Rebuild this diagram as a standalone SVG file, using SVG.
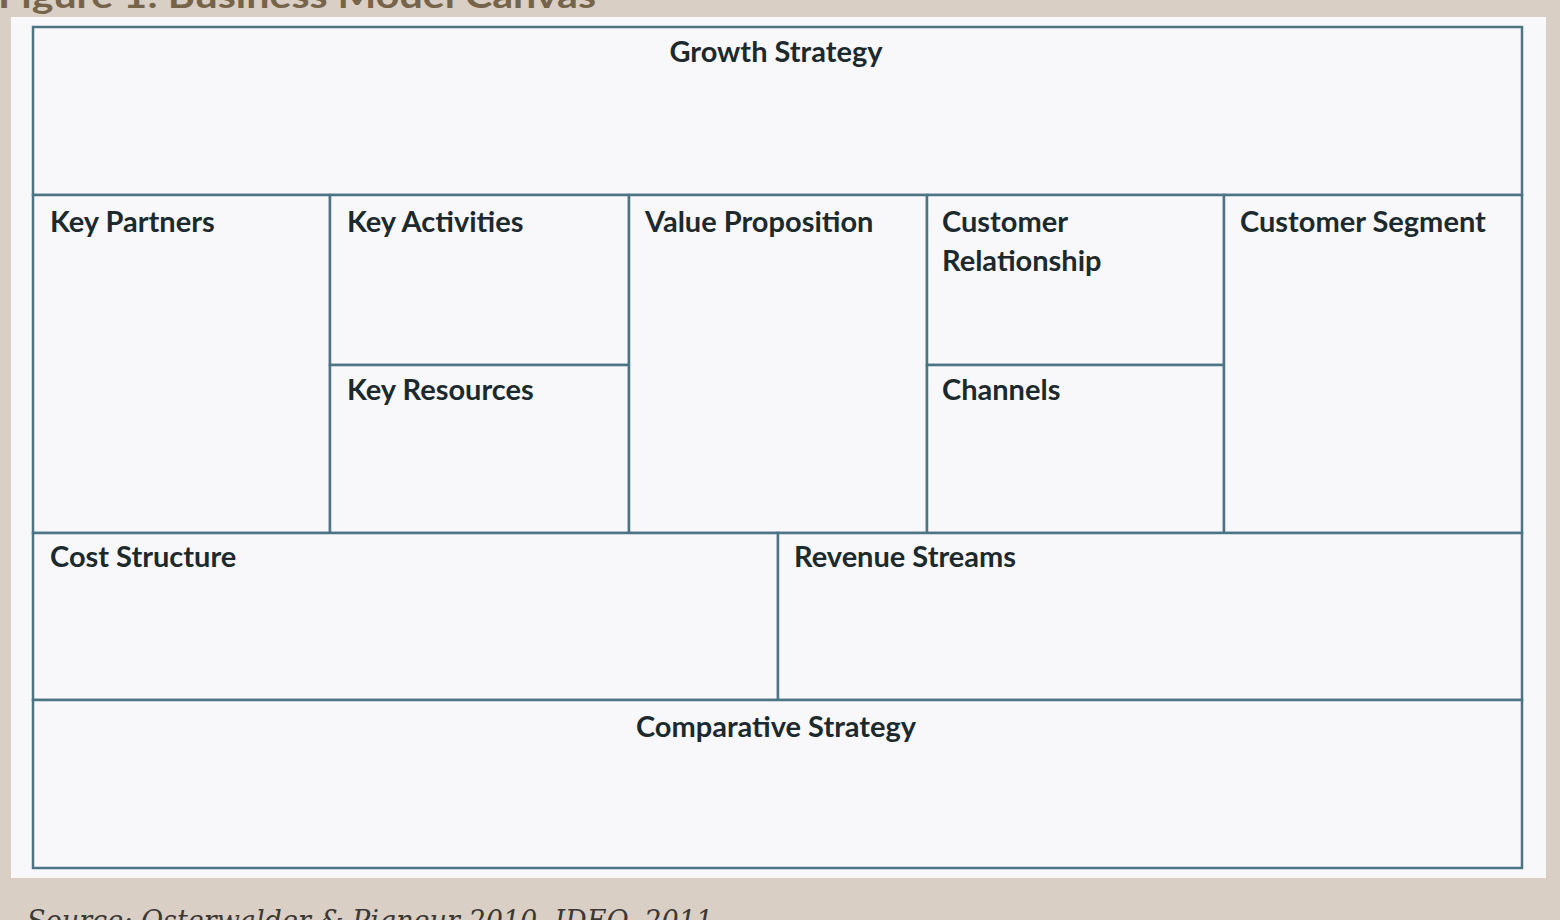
<svg xmlns="http://www.w3.org/2000/svg" width="1560" height="920" viewBox="0 0 1560 920">
<style>
.cell{fill:#f8f8fb;stroke:#4d7484;stroke-width:2.5}
.lbl{font-family:Lato,"Open Sans",sans-serif;font-weight:bold;font-size:29px;fill:#1c2a2e}
.mid{text-anchor:middle}
</style>
<rect x="0" y="0" width="1560" height="920" fill="#d9cfc5"/>
<rect x="11" y="17" width="1535" height="861" fill="#f8f8fb"/>
<text x="-2" y="8" font-family="Lato,'Open Sans',sans-serif" font-weight="bold" font-size="34" fill="#76644a" textLength="598" lengthAdjust="spacingAndGlyphs">Figure 1: Business Model Canvas</text>
<text x="27" y="931" font-family="'DejaVu Serif','Liberation Serif',serif" font-style="italic" font-size="29" fill="#3b3835" textLength="686" lengthAdjust="spacingAndGlyphs">Source: Osterwalder &amp; Pigneur 2010, IDEO, 2011</text>
<g id="growth-strategy"><rect class="cell" x="33" y="27" width="1489" height="168"/><text class="lbl mid" x="776" y="62">Growth Strategy</text></g>
<g id="key-partners"><rect class="cell" x="33" y="195" width="297" height="338"/><text class="lbl" x="50" y="232">Key Partners</text></g>
<g id="key-activities"><rect class="cell" x="330" y="195" width="299" height="170"/><text class="lbl" x="347" y="232">Key Activities</text></g>
<g id="key-resources"><rect class="cell" x="330" y="365" width="299" height="168"/><text class="lbl" x="347" y="400">Key Resources</text></g>
<g id="value-proposition"><rect class="cell" x="629" y="195" width="298" height="338"/><text class="lbl" x="645" y="232">Value Proposition</text></g>
<g id="customer-relationship"><rect class="cell" x="927" y="195" width="297" height="170"/><text class="lbl" x="942" y="232">Customer</text><text class="lbl" x="942" y="271">Relationship</text></g>
<g id="channels"><rect class="cell" x="927" y="365" width="297" height="168"/><text class="lbl" x="942" y="400">Channels</text></g>
<g id="customer-segment"><rect class="cell" x="1224" y="195" width="298" height="338"/><text class="lbl" x="1240" y="232">Customer Segment</text></g>
<g id="cost-structure"><rect class="cell" x="33" y="533" width="745" height="167"/><text class="lbl" x="50" y="567">Cost Structure</text></g>
<g id="revenue-streams"><rect class="cell" x="778" y="533" width="744" height="167"/><text class="lbl" x="794" y="567">Revenue Streams</text></g>
<g id="comparative-strategy"><rect class="cell" x="33" y="700" width="1489" height="168"/><text class="lbl mid" x="776" y="737">Comparative Strategy</text></g>
<g id="connectors"></g>
</svg>
